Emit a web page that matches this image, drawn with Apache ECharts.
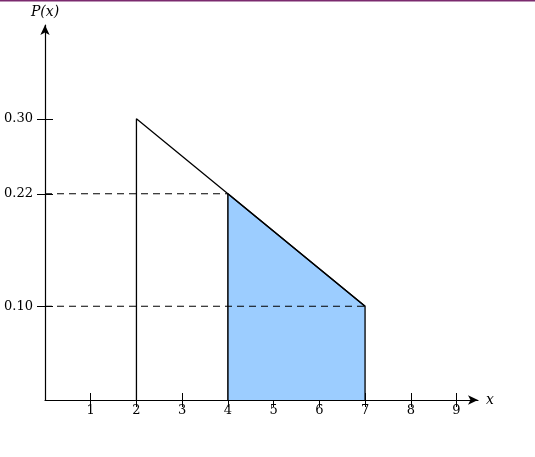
<!DOCTYPE html>
<html>
<head>
<meta charset="utf-8">
<script src="https://cdn.jsdelivr.net/npm/echarts@6/dist/echarts.min.js"></script>
<style>
  html, body { margin: 0; padding: 0; background: #fff; }
  #chart { width: 535px; height: 457px; }
</style>
</head>
<body>
<div id="chart"></div>
<script>
// density outline: P(2)=0.30 falling linearly to P(7)=0.10
const outline = [[2, 0], [2, 0.30], [7, 0.10], [7, 0]];
const shaded = [[4, 0.22], [7, 0.10]];
const edgeAt4 = [[4, 0], [4, 0.22]];
const dash22 = [[0, 0.22], [4, 0.22]];
const dash10 = [[0, 0.10], [7, 0.10]];
const xTicks = [1, 2, 3, 4, 5, 6, 7, 8, 9];
const yTicks = [0.10, 0.22, 0.30];

const font = 'DejaVu Serif';
const chart = echarts.init(document.getElementById('chart'));

const xBase = {
    type: 'value', min: 0, max: 9.47,
    splitLine: { show: false }
};
const yBase = {
    type: 'value', min: 0, max: 0.4,
    splitLine: { show: false }
};

function lineSeries(data, opts) {
    return Object.assign({
        type: 'line', data: data, symbol: 'none', silent: true,
        lineStyle: { color: '#000', width: 1.3 }
    }, opts);
}

chart.setOption({
    animation: false,
    grid: { left: 45, right: 57, top: 25, bottom: 57 },
    graphic: [{
        type: 'rect', shape: { x: 0, y: 0, width: 535, height: 1.5 },
        style: { fill: '#7b2a6e' }
    }],
    xAxis: [
        Object.assign({}, xBase, {
            name: 'x', nameGap: 8,
            nameTextStyle: { fontFamily: font, fontStyle: 'italic', fontSize: 14, color: '#000' },
            axisLine: { lineStyle: { color: '#000', width: 1.2 }, symbol: ['none', 'arrow'], symbolSize: [7, 10] },
            axisTick: { customValues: xTicks, length: 7, lineStyle: { color: '#000' } },
            axisLabel: { customValues: xTicks, fontFamily: font, fontSize: 13, color: '#000', margin: 4 }
        }),
        Object.assign({}, xBase, {
            position: 'bottom',
            axisLine: { show: false },
            axisTick: { customValues: xTicks, inside: true, length: 7, lineStyle: { color: '#000' } },
            axisLabel: { show: false }
        })
    ],
    yAxis: [
        Object.assign({}, yBase, {
            name: 'P(x)', nameGap: 6,
            nameTextStyle: { fontFamily: font, fontStyle: 'italic', fontSize: 14, color: '#000', align: 'center' },
            axisLine: { lineStyle: { color: '#000', width: 1.2 }, symbol: ['none', 'arrow'], symbolSize: [7, 10] },
            axisTick: { customValues: yTicks, length: 8, lineStyle: { color: '#000' } },
            axisLabel: {
                customValues: yTicks, fontFamily: font, fontSize: 13, color: '#000', margin: 12,
                formatter: v => v.toFixed(2)
            }
        }),
        Object.assign({}, yBase, {
            position: 'left',
            axisLine: { show: false },
            axisTick: { customValues: yTicks, inside: true, length: 8, lineStyle: { color: '#000' } },
            axisLabel: { show: false }
        })
    ],
    series: [
        lineSeries(shaded, {
            areaStyle: { color: '#9ccdff', opacity: 1, origin: 'start' },
            lineStyle: { color: '#000', width: 1.5 }
        }),
        lineSeries(outline),
        lineSeries(edgeAt4, { lineStyle: { color: '#000', width: 1.5 } }),
        lineSeries(dash22, { lineStyle: { color: '#000', width: 1.2, type: [7, 5] } }),
        lineSeries(dash10, { lineStyle: { color: '#000', width: 1.2, type: [7, 5] } })
    ]
});
</script>
</body>
</html>
